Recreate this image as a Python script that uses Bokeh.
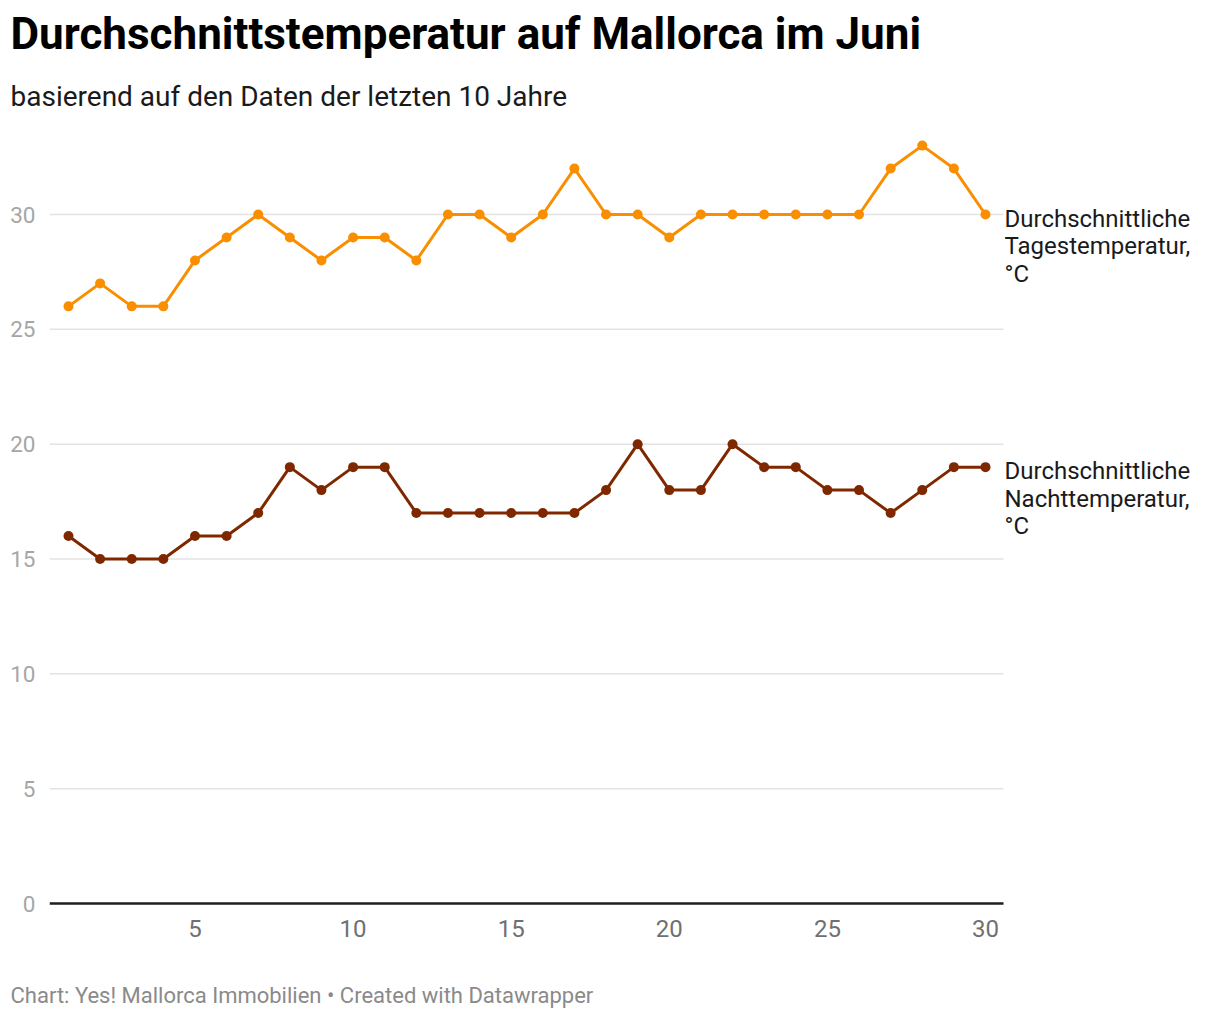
from bokeh.plotting import figure
from bokeh.models import Range1d, FixedTicker, Title
from bokeh.layouts import column
from bokeh.embed import file_html
from bokeh.resources import INLINE

# ---- data ----
days = list(range(1, 31))
day_temp = [26, 27, 26, 26, 28, 29, 30, 29, 28, 29, 29, 28, 30, 30, 29,
            30, 32, 30, 30, 29, 30, 30, 30, 30, 30, 30, 32, 33, 32, 30]
night_temp = [16, 15, 15, 15, 16, 16, 17, 19, 18, 19, 19, 17, 17, 17, 17,
              17, 17, 18, 20, 18, 18, 20, 19, 19, 18, 18, 17, 18, 19, 19]
y_ticks = [0, 5, 10, 15, 20, 25, 30]
x_ticks = [5, 10, 15, 20, 25, 30]
day_label = ["Durchschnittliche", "Tagestemperatur,", "°C"]
night_label = ["Durchschnittliche", "Nachttemperatur,", "°C"]
title = "Durchschnittstemperatur auf Mallorca im Juni"
subtitle = "basierend auf den Daten der letzten 10 Jahre"
footer = "Chart: Yes! Mallorca Immobilien • Created with Datawrapper"

ORANGE = "#f98f00"
BROWN = "#7f2800"
FONT = "Roboto"

# ---- geometry (pixels) ----
W = 1212
MAIN_H = 945
FOOT_H = 67
FRAME_L, FRAME_T, FRAME_B = 49, 130, 905
PX_DAY = (985 - 68) / 29.0
PX_DEG = (903 - 214) / 30.0
x0 = 1 - (68 - FRAME_L) / PX_DAY
x1 = x0 + (W - FRAME_L) / PX_DAY
y0 = -(FRAME_B - 903) / PX_DEG
y1 = y0 + (FRAME_B - FRAME_T) / PX_DEG
grid_end = days[-1] + 18 / PX_DAY

p = figure(width=W, height=MAIN_H, output_backend="svg", toolbar_location=None,
           x_range=Range1d(x0, x1), y_range=Range1d(y0, y1),
           min_border_left=FRAME_L, min_border_right=0,
           min_border_top=FRAME_T, min_border_bottom=MAIN_H - FRAME_B)
p.outline_line_color = None
p.background_fill_color = "white"
p.border_fill_color = "white"

p.xaxis.ticker = FixedTicker(ticks=x_ticks)
p.yaxis.ticker = FixedTicker(ticks=y_ticks)
for ax in (p.xaxis, p.yaxis):
    ax.axis_line_color = None
    ax.major_tick_line_color = None
    ax.minor_tick_line_color = None
    ax.major_label_text_font = FONT
p.xaxis.major_label_text_font_size = "24px"
p.xaxis.major_label_text_color = "#707070"
p.xaxis.major_label_standoff = 8
p.yaxis.major_label_text_font_size = "22.5px"
p.yaxis.major_label_text_color = "#a6a6a6"
p.yaxis.major_label_standoff = 8
p.xgrid.grid_line_color = None
p.ygrid.grid_line_color = None

# gridlines and baseline, ending just right of the last day
n = len(y_ticks) - 1
p.segment(x0=[x0] * n, x1=[grid_end] * n, y0=y_ticks[1:], y1=y_ticks[1:],
          line_color="#e3e3e3", line_width=1.5)
p.segment(x0=[x0], x1=[grid_end], y0=y_ticks[:1], y1=y_ticks[:1],
          line_color="#1e1e1e", line_width=2.5)

# series
p.line(days, day_temp, line_color=ORANGE, line_width=3)
p.scatter(days, day_temp, size=10, fill_color=ORANGE, line_color=None)
p.line(days, night_temp, line_color=BROWN, line_width=3)
p.scatter(days, night_temp, size=10, fill_color=BROWN, line_color=None)

# series labels at the line ends
for lines, yv in ((day_label, day_temp[-1]), (night_label, night_temp[-1])):
    for i, t in enumerate(lines):
        p.text(x=[days[-1]], y=[yv], text=[t], x_offset=19, y_offset=4 + 27.5 * i,
               text_baseline="middle", text_font={"value": FONT},
               text_font_size="24px", text_color="#1a1a1a")

# title and subtitle (stacked above the plot frame)
p.add_layout(Title(text=subtitle, align="left", offset=10 - FRAME_L, standoff=36,
                   text_font=FONT, text_font_size="28px", text_font_style="normal",
                   text_color="#1a1a1a"), "above")
p.add_layout(Title(text=title, align="left", offset=10 - FRAME_L, standoff=0,
                   text_font=FONT, text_font_size="44px", text_font_style="bold",
                   text_color="#000000"), "above")

# footer strip
foot = figure(width=W, height=FOOT_H, output_backend="svg", toolbar_location=None,
              x_range=Range1d(0, 1), y_range=Range1d(0, 1),
              x_axis_type=None, y_axis_type=None,
              min_border_left=FRAME_L, min_border_right=0,
              min_border_top=0, min_border_bottom=0)
foot.outline_line_color = None
foot.xgrid.grid_line_color = None
foot.ygrid.grid_line_color = None
foot.border_fill_color = "white"
foot.add_layout(Title(text=footer, align="left", offset=10 - FRAME_L, standoff=10,
                      text_font=FONT, text_font_size="22px", text_font_style="normal",
                      text_color="#8a8a8a"), "below")

layout = column(p, foot, spacing=0)
open("out.html", "w").write(file_html(layout, INLINE))
